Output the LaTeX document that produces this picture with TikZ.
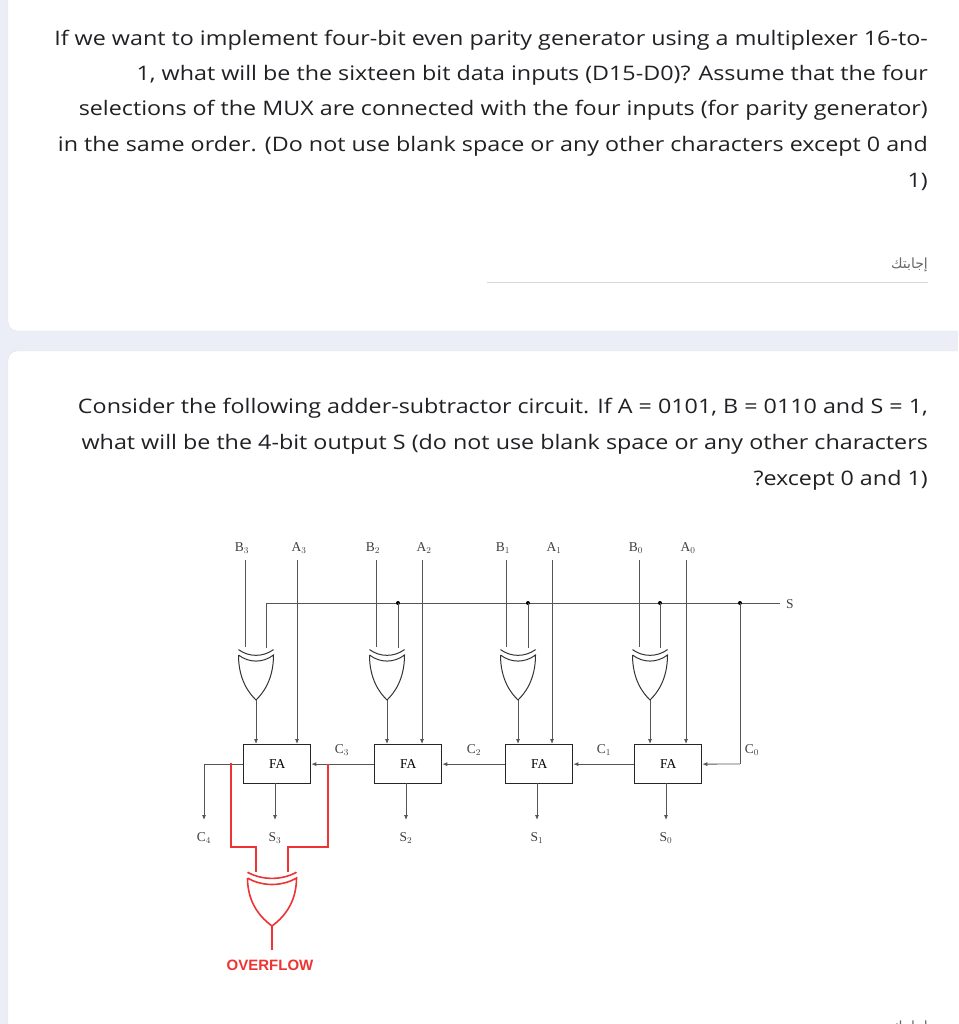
\documentclass[tikz,border=0pt]{standalone}
\usepackage{fontspec}
\setmainfont[FakeStretch=1.165]{Open Sans}
\newfontfamily\arabicfont[Script=Arabic]{DejaVu Sans}
\newfontfamily\timesf{Liberation Serif}
\newfontfamily\arialf{Liberation Sans}
\TeXXeTstate=1
\usetikzlibrary{arrows.meta}
\definecolor{bg}{HTML}{EBEEF6}
\definecolor{txt}{HTML}{202124}
\definecolor{wire}{HTML}{555555}
\definecolor{ovr}{HTML}{EE3333}
\newcommand\myxor[5]{% cx, yt, w, h, style
  \draw[#5] (#1-#3/2,#2) .. controls (#1-#3/2,#2+#4*0.55) and (#1-#3*0.2,#2+#4*0.85) .. (#1,#2+#4)
     .. controls (#1+#3*0.2,#2+#4*0.85) and (#1+#3/2,#2+#4*0.55) .. (#1+#3/2,#2)
     .. controls (#1+#3*0.2,#2+#4*0.18) and (#1-#3*0.2,#2+#4*0.18) .. (#1-#3/2,#2);
  \draw[#5] (#1-#3/2,#2-#4*0.12) .. controls (#1-#3*0.2,#2+#4*0.05) and (#1+#3*0.2,#2+#4*0.05) .. (#1+#3/2,#2-#4*0.12);}
\begin{document}
\begin{tikzpicture}[x=1pt,y=-1pt,
  qtext/.style={anchor=base east,inner sep=0,text=txt,font=\fontsize{20}{24}\selectfont},
  lab/.style={inner sep=0,font=\timesf\fontsize{13.5}{15}\selectfont,text=black!75},
  wirel/.style={draw=wire,line width=0.8pt},
  arr/.style={wirel,-{Latex[length=5pt,width=4pt]}},
  fabox/.style={draw=black!85,line width=1.3pt,minimum width=67pt,minimum height=39pt,inner sep=0,font=\timesf\fontsize{13.5}{15}\selectfont,anchor=north west},
  red/.style={draw=ovr,line width=1.6pt}]
\useasboundingbox (0,0) rectangle (958,1024);
\clip (0,0) rectangle (958,1024);
\fill[bg] (0,0) rectangle (958,1024);
\fill[white,draw=black!12] (8,-20) [rounded corners=9pt] -- (8,331) -- (970,331) -- (970,-20) -- cycle;
\fill[white,draw=black!12] (970,351) [rounded corners=9pt] -- (8,351) -- (8,1040) -- (970,1040);
% question 1
\node[qtext] (q1a) at (928,46) {If we want to implement four-bit even parity generator using a multiplexer 16-to-};
\node[qtext] (q1b) at (928,81) {1, what will be the sixteen bit data inputs (D15-D0)? Assume that the four};
\node[qtext] (q1c) at (928,116) {selections of the MUX are connected with the four inputs (for parity generator)};
\node[qtext] (q1d) at (928,152) {in the same order. (Do not use blank space or any other characters except 0 and};
\node[qtext] (q1e) at (928,188) {1)};
\node[anchor=east,inner sep=0,text=black!60,font=\arabicfont\fontsize{14}{16}\selectfont] (ans1) at (928,265) {\beginR إجابتك\endR};
\draw[black!15,line width=0.8pt] (487,282) -- (928,282);
% question 2
\node[qtext] (q2a) at (928,413) {Consider the following adder-subtractor circuit. If A = 0101, B = 0110 and S = 1,};
\node[qtext] (q2b) at (928,449) {what will be the 4-bit output S (do not use blank space or any other characters};
\node[qtext] (q2c) at (928,485) {?except 0 and 1)};
\node[anchor=east,inner sep=0,text=black!60,font=\arabicfont\fontsize{14}{16}\selectfont] (ans2) at (928,1028) {\beginR إجابتك\endR};
% circuit
\foreach \i/\fx/\xc/\bx/\sx/\ax in {3/243/256/245/266/297, 2/374/387/376/398/422, 1/505/518/506/528/552, 0/634/650/639/660/686}{
  \node[lab] (B\i) at (\bx-3,548) {B$_{\i}$};
  \node[lab] (A\i) at (\ax+2,548) {A$_{\i}$};
  \node[fabox] (FA\i) at (\fx,744) {FA};
  \draw[wirel] (\bx,560) -- (\bx,647);
  \draw[arr] (\ax,560) -- (\ax,744);
  \draw[arr] (\xc,700) -- (\xc,744);
  \myxor{\xc}{655}{35}{45}{wirel,draw=black!80,line width=1pt}
  \coordinate (so\i) at (\fx+32,820);
  \draw[arr] (\fx+32,783) -- (so\i);
  \node[lab] (S\i) at (\fx+32,838) {S$_{\i}$};
}
\draw[wirel] (266,648) -- (266,603) -- (780,603);
\node[lab,anchor=west] (Sin) at (786,604) {S};
\foreach \x in {398,528,660,740} \fill[black] (\x,603) circle (2pt);
\foreach \x in {398,528,660} \draw[wirel] (\x,603) -- (\x,648);
% carries
\coordinate (c0) at (740,764);
\draw[wirel] (740,603) -- (c0);
\draw[arr] (c0) -- (FA0.east);
\node[lab] (C0) at (752,750) {C$_0$};
\draw[arr] (FA0.west) -- (FA1.east); \node[lab] (C1) at (604,750) {C$_1$};
\draw[arr] (FA1.west) -- (FA2.east); \node[lab] (C2) at (474,750) {C$_2$};
\draw[arr] (FA2.west) -- (FA3.east); \node[lab] (C3) at (342,750) {C$_3$};
\coordinate (c4) at (204,820);
\draw[arr] (FA3.west) -| (c4);
\node[lab] (C4) at (204,838) {C$_4$};
% overflow
\draw[red] (231,763) -- (231,847) -- (256,847) -- (256,872);
\draw[red] (328,764) -- (328,847) -- (288,847) -- (288,872);
\myxor{272}{878}{49}{48}{red}
\draw[red] (272,926) -- (272,950);
\node[inner sep=0,text=ovr,font=\arialf\bfseries\fontsize{15}{17}\selectfont] (ovf) at (270,965) {OVERFLOW};
\end{tikzpicture}
\end{document}
